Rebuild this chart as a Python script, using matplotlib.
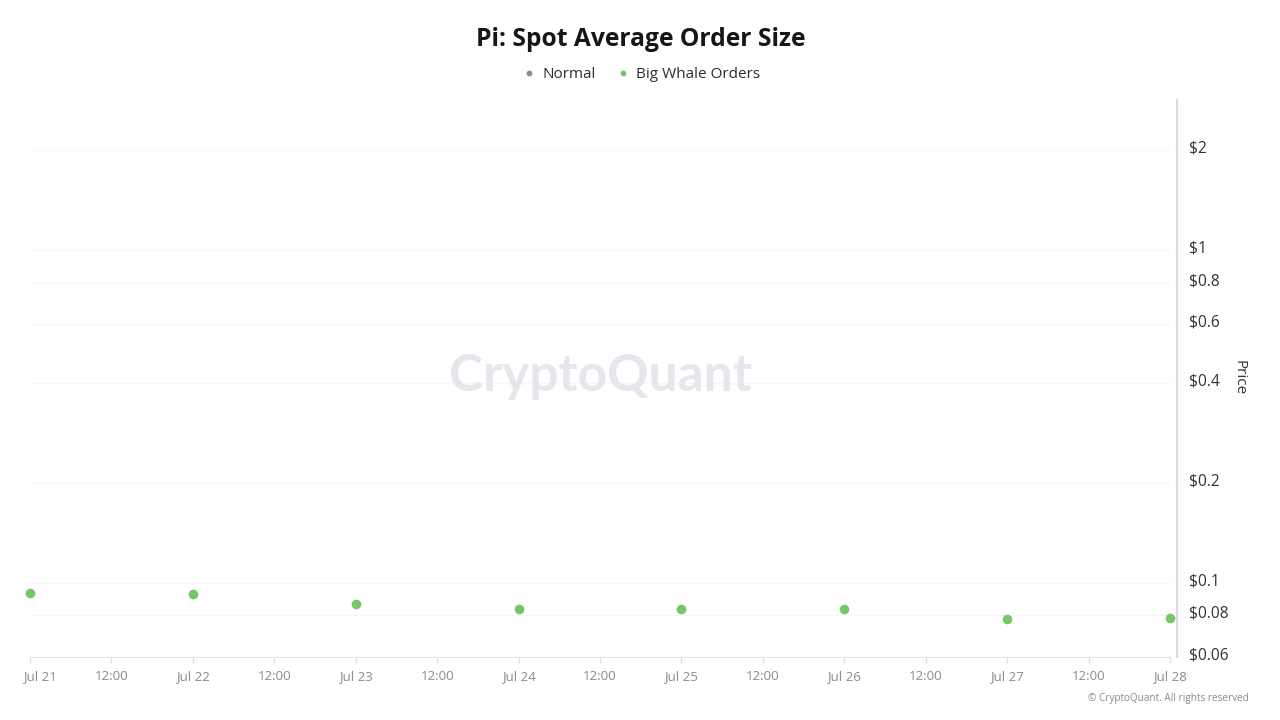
import pandas as pd
import matplotlib.pyplot as plt
from matplotlib.transforms import ScaledTranslation

plt.rcParams['font.family'] = ['Open Sans', 'DejaVu Sans']

# data
dates = pd.date_range('2025-07-21', '2025-07-28', freq='D')
whale_orders = [0.0933, 0.0927, 0.0865, 0.0835, 0.0835, 0.0835, 0.0780, 0.0785]
normal_dates = []
normal_orders = []
y_ticks = [0.06, 0.08, 0.1, 0.2, 0.4, 0.6, 0.8, 1, 2]
y_labels = ['$0.06', '$0.08', '$0.1', '$0.2', '$0.4', '$0.6', '$0.8', '$1', '$2']
x_ticks = pd.date_range('2025-07-21', '2025-07-28', freq='12h')
x_labels = [d.strftime('%b %d').replace(' 0', ' ') if d.hour == 0 else '12:00' for d in x_ticks]

W, H = 1280, 720
fig = plt.figure(figsize=(12.8, 7.2), dpi=100)
ax = fig.add_axes([30 / W, (H - 657) / H, 1140 / W, 557 / H])

ax.set_yscale('log')
ax.set_ylim(0.06, 2.83)
ax.set_xlim(dates[0], dates[-1])

ax.scatter(normal_dates, normal_orders, s=20, color='#8f8f8f', label='Normal', zorder=3)
ax.scatter(dates, whale_orders, s=48, color='#74c765', linewidths=0,
           label='Big Whale Orders', clip_on=False, zorder=3)

# y axis
ax.yaxis.tick_right()
ax.set_yticks(y_ticks)
ax.set_yticklabels(y_labels)
ax.minorticks_off()
ax.tick_params(axis='y', length=0, pad=8.7, labelsize=11.2, labelcolor='#333333')
ax.grid(axis='y', color='#f6f6f6', linewidth=1)

# x axis
ax.set_xticks(x_ticks)
ax.set_xticklabels(x_labels)
ax.tick_params(axis='x', length=4.5, width=1, color='#e2e2ea', pad=4.6,
               labelsize=9.5, labelcolor='#8a8a8a')

for side in ['top', 'left']:
    ax.spines[side].set_visible(False)
ax.spines['bottom'].set_color('#e2e2ea')
ax.spines['right'].set_color('#d8d8de')
ax.spines['right'].set_linewidth(1.5)
ax.spines['right'].set_position(('outward', 5))

# label nudges: y labels sit a little above their grid lines, first date stays inside
up = ScaledTranslation(0, 3.5 / 100, fig.dpi_scale_trans)
for lab in ax.get_yticklabels():
    lab.set_transform(lab.get_transform() + up)
first = ax.get_xticklabels()[0]
first.set_transform(first.get_transform() + ScaledTranslation(10 / 100, 0, fig.dpi_scale_trans))

fig.text(1239 / W, 1 - 378 / H, 'Price', rotation=270, ha='center', va='center',
         fontsize=11, color='#333333')

# title and legend
fig.text(640.5 / W, 1 - 39 / H, 'Pi: Spot Average Order Size', ha='center', va='center',
         fontsize=17.7, fontweight='bold', color='#16161a')
handles = [plt.Line2D([], [], linestyle='', marker='o', markersize=3.2, color='#8f8f8f'),
           plt.Line2D([], [], linestyle='', marker='o', markersize=3.2, color='#74c765')]
fig.legend(handles, ['Normal', 'Big Whale Orders'], loc='center', ncol=2,
           bbox_to_anchor=(641 / W, 1 - 74.5 / H), frameon=False, fontsize=11,
           labelcolor='#2b2b33', handlelength=1, handletextpad=0.36, columnspacing=1.26)

# watermark and footer
fig.text(600 / W, 1 - 377 / H, 'CryptoQuant', ha='center', va='center', fontsize=37,
         family=['Lato', 'DejaVu Sans'], fontweight='bold', color='#e6e6ec', zorder=0)
fig.text(1249 / W, 1 - 699 / H, '© CryptoQuant. All rights reserved', ha='right', va='center',
         fontsize=7.2, color='#8a8a8a')

fig.savefig('out.png', dpi=100)
